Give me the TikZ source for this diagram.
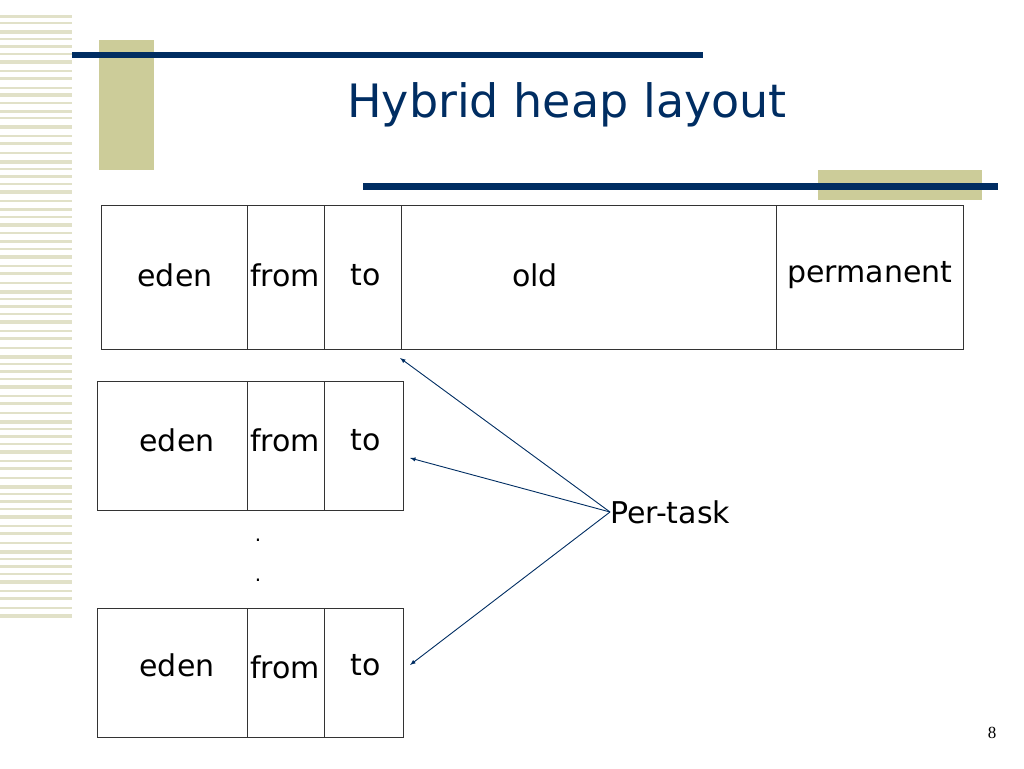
\documentclass[tikz,border=0pt]{standalone}
\usepackage{fontspec}
\setmainfont{DejaVu Sans}
\newfontfamily\serifpg{Liberation Serif}
\definecolor{navy}{RGB}{0,45,98}
\definecolor{khaki}{RGB}{204,204,153}
\definecolor{pale}{RGB}{225,225,200}
\begin{document}
\begin{tikzpicture}[x=1pt,y=-1pt,
  lbl/.style={font=\fontsize{30}{32}\selectfont, inner sep=0pt},
  cell/.style={draw=black!80, line width=0.8pt},
  arr/.style={draw=navy, line width=0.9pt, -latex}]
\useasboundingbox (0,0) rectangle (1024,768);
% stripes
\foreach \y/\h in {15/3,22/2,30/4,38/2,45/3,53/2,60/4,70/2,77/3,87/2,93/4,102/2,110/3,117/2,125/4,135/2,142/3,152/2,160/4,168/2,175/3,183/2,190/4,200/2,208/3,216/2,223/4,232/2,240/3,248/2,255/4,265/2,272/3,282/2,290/4,298/2,305/3,313/2,320/4,330/2,337/3,347/2,355/4,363/2,370/3,378/2,385/4,395/2,402/3,412/2,420/4,428/2,435/3,443/2,450/4,460/2,467/3,477/2,485/4,493/2,500/3,508/2,515/4,525/2,532/3,542/2,550/4,558/2,565/3,573/2,580/4,590/2,597/3,607/2,614/4}
  \fill[pale] (0,\y) rectangle (72,\y+\h);
% decorations
\fill[khaki] (99,40) rectangle (154,170);
\fill[navy] (72,52) rectangle (703,58);
\fill[khaki] (818,170) rectangle (982,200);
\fill[navy] (363,183) rectangle (998,190);
\node[text=navy, font=\fontsize{46}{50}\selectfont] (title) at (567,105) {Hybrid heap layout};
% top box
\draw[cell] (101,205) rectangle (963,349);
\foreach \x in {247,324,401,776} \draw[cell] (\x,205) -- (\x,349);
\node[lbl] (e1) at (175,275) {eden};
\node[lbl] (f1) at (285,275) {from};
\node[lbl] (t1) at (366,275) {to};
\node[lbl] (o1) at (535,275) {old};
\node[lbl] (p1) at (870,275) {permanent};
% box 2
\draw[cell] (97,381) rectangle (403,510);
\foreach \x in {247,324} \draw[cell] (\x,381) -- (\x,510);
\node[lbl] (e2) at (177,440) {eden};
\node[lbl] (f2) at (285,440) {from};
\node[lbl] (t2) at (366,440) {to};
% dots
\node[lbl,font=\fontsize{20}{20}\selectfont] (d1) at (258,540) {.};
\node[lbl,font=\fontsize{20}{20}\selectfont] (d2) at (258,580) {.};
% box 3
\draw[cell] (97,608) rectangle (403,737);
\foreach \x in {247,324} \draw[cell] (\x,608) -- (\x,737);
\node[lbl] (e3) at (177,665) {eden};
\node[lbl] (f3) at (285,667) {from};
\node[lbl] (t3) at (366,665) {to};
% per-task
\node[lbl, anchor=west] (pt) at (610,512) {Per-task};
\coordinate (c1) at (400,358);
\coordinate (c2) at (410,458);
\coordinate (c3) at (410,665);
\draw[arr] (pt.west) -- (c1);
\draw[arr] (pt.west) -- (c2);
\draw[arr] (pt.west) -- (c3);
\node[font=\serifpg\fontsize{17}{17}\selectfont] (pg) at (992,733) {8};
\end{tikzpicture}
\end{document}
